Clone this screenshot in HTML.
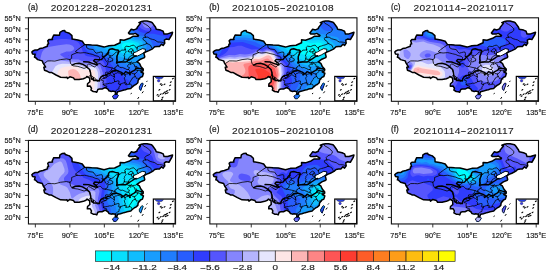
<!DOCTYPE html><html><head><meta charset="utf-8"><title>fig</title><style>html,body{margin:0;padding:0;background:#fff}svg{display:block}text{font-family:"Liberation Sans",Arial,Helvetica,sans-serif;fill:#222}text{stroke:#222;stroke-width:.18px}.t{font-size:9.5px;letter-spacing:.3px;stroke-width:.12px}.l{font-size:8.3px;stroke-width:.22px}.a{font-size:6.7px}.c{font-size:8.1px}</style></head><body>
<svg width="550" height="275" viewBox="0 0 550 275">
<rect width="550" height="275" fill="#fff"/>
<defs>
<clipPath id="cn"><path clip-rule="evenodd" d="M3.4,34.3 L4.4,33.2 L6.7,32.1 L9.2,32.1 L11.3,30.8 L14.5,30.1 L18.9,28.4 L19.1,26.4 L20.2,26.0 L19.3,22.9 L20.5,21.8 L24.1,21.6 L23.7,20.7 L25.3,17.2 L31.0,17.4 L31.5,14.5 L34.0,13.0 L36.3,12.8 L36.8,14.1 L40.9,15.4 L43.5,17.8 L43.7,21.3 L49.4,22.2 L53.8,23.5 L56.1,26.8 L63.2,27.3 L68.5,27.5 L75.6,29.3 L80.5,27.9 L86.2,27.5 L91.7,24.9 L91.7,22.0 L95.6,22.4 L101.2,20.5 L104.4,18.5 L109.7,18.5 L110.1,17.6 L106.9,15.6 L105.3,16.1 L100.9,16.1 L100.0,15.2 L102.8,11.4 L105.5,12.1 L108.5,10.8 L108.7,9.7 L110.6,7.3 L112.0,5.5 L110.4,4.8 L113.1,3.7 L115.6,3.3 L118.6,3.3 L123.2,4.4 L124.1,5.3 L127.1,9.5 L127.8,11.4 L132.2,12.3 L134.7,13.4 L135.6,16.1 L139.1,16.1 L144.1,14.5 L143.5,16.7 L140.5,21.8 L137.7,21.3 L135.9,22.4 L136.3,25.3 L134.7,27.7 L133.1,26.4 L131.0,28.6 L128.7,28.6 L126.2,29.0 L124.1,31.0 L120.5,32.8 L117.7,33.9 L115.4,35.4 L115.9,37.4 L116.3,38.9 L115.9,39.8 L112.0,41.4 L108.5,44.0 L111.0,45.5 L112.4,48.6 L114.7,51.3 L114.7,53.0 L112.4,54.1 L114.0,55.0 L115.0,55.4 L114.0,58.7 L112.0,59.6 L109.7,62.5 L109.4,64.9 L107.4,66.7 L106.0,67.3 L103.5,69.3 L102.3,70.6 L98.6,71.3 L97.0,71.9 L95.4,72.2 L92.0,73.3 L89.2,73.9 L88.3,76.3 L86.9,76.1 L87.1,73.9 L84.1,73.3 L82.8,73.7 L80.5,73.0 L79.5,71.3 L76.8,69.7 L73.6,71.3 L71.0,71.3 L69.4,71.7 L68.3,74.4 L67.1,73.9 L64.8,73.7 L62.5,72.4 L63.0,70.4 L61.6,68.2 L58.9,68.4 L59.1,66.0 L61.4,64.0 L61.2,60.3 L58.4,58.7 L57.5,59.8 L54.9,60.9 L50.6,61.8 L46.2,61.8 L45.1,60.1 L41.4,59.0 L39.1,60.7 L38.6,59.4 L37.0,59.6 L32.2,59.4 L27.6,57.2 L23.0,54.6 L20.9,54.6 L18.9,53.5 L16.1,52.4 L15.4,49.5 L17.2,49.3 L14.7,45.3 L13.8,43.1 L9.2,41.8 L6.9,39.6 L6.0,39.4 L6.7,36.5 L4.1,36.1ZM105.3,37.7 L108.1,38.6 L111.5,37.1 L114.5,35.4 L116.8,33.9 L117.0,31.4 L113.8,30.9 L110.5,32.5 L107.9,34.0 L105.4,35.0ZM84.1,78.8 L85.3,81.0 L87.4,81.0 L88.7,79.9 L89.9,77.7 L89.0,76.6 L86.4,76.8ZM113.8,65.3 L114.8,66.0 L114.0,68.2 L112.3,72.7 L111.0,71.1 L110.8,69.1 L112.7,66.0Z"/></clipPath>
<clipPath id="fr"><rect x="0" y="0" width="147.1" height="83.5"/></clipPath>
<g id="lines" fill="none" stroke="#000" stroke-linejoin="round" stroke-linecap="round">
<path stroke-width="0.8" d="M15.9,45.5 L19.3,43.1 L23.0,43.1 L26.4,43.3 L32.2,41.8 L37.9,41.1 L41.4,41.8M41.4,41.8 L43.2,40.5 L43.2,37.0 L48.7,34.8M48.7,34.8 L46.9,33.7 L49.2,31.9 L52.4,29.5 L56.1,27.1M41.4,41.8 L42.1,45.8 L44.8,48.0 L49.4,48.6 L52.4,49.5 L55.6,50.6 L58.4,49.5M58.4,49.5 L61.2,51.7 L62.1,55.0 L62.1,56.8M62.1,56.8 L61.4,58.1 L60.2,59.0 L58.6,58.7M48.7,34.8 L51.7,35.2 L56.3,34.8 L58.2,35.2 L60.9,35.9 L64.4,36.7 L66.7,37.8 L69.7,38.5 L71.3,39.8 L71.0,41.1 L70.8,42.5 L69.4,44.0 L66.7,44.7 L66.2,45.8 L68.5,47.1M58.4,49.5 L58.9,47.3 L60.2,46.0 L62.1,46.9 L64.4,48.4 L66.2,49.3 L67.1,48.0 L68.5,47.1M68.5,47.1 L70.1,45.8 L71.7,45.8 L73.1,46.9 L74.5,48.4 L77.0,48.7M57.9,27.1 L58.2,29.9 L60.5,31.2 L64.8,31.7 L66.4,34.1 L67.8,35.4 L70.1,34.8 L72.0,34.3 L73.6,34.3 L74.0,35.4 L74.0,37.4 L73.3,38.3 L74.3,38.7M74.3,38.7 L75.9,39.8 L76.6,41.4 L77.0,42.5 L78.4,43.8 L79.3,43.1 L80.2,42.0 L79.5,41.1 L80.7,39.8 L81.2,39.4 L82.0,38.0 L80.5,37.2 L79.3,36.7 L80.4,35.4 L80.4,34.5 L80.0,34.3 L78.9,34.7 L77.8,35.9 L77.7,37.8 L75.9,38.3 L74.3,38.7M82.0,38.0 L82.8,38.1 L84.6,37.4 L86.2,35.6 L87.8,34.3 L90.1,34.1M90.1,34.1 L91.7,33.9 L92.9,32.3 L95.4,32.3 L96.8,31.5M96.8,31.5 L96.3,29.7 L97.7,28.4 L100.9,28.8 L103.2,27.7 L105.3,27.3 L106.4,28.6 L107.8,29.9 L108.7,30.1M108.7,30.1 L109.2,28.8 L111.5,28.2 L113.8,27.5 L116.1,26.8 L118.4,25.7M118.4,25.7 L117.2,23.5 L115.0,22.2 L114.5,20.7 L115.0,19.8 L117.0,19.4M117.0,19.4 L116.3,17.2 L117.9,15.4 L120.7,14.3 L122.3,12.8 L122.5,11.0 L119.5,8.1 L117.2,6.6 L115.0,5.5 L113.8,3.7M117.0,19.4 L119.3,19.4 L121.6,20.9 L124.1,21.6 L126.4,22.2 L127.6,23.1 L129.4,24.2 L131.0,24.2 L133.3,24.4 L136.3,25.3M118.4,25.7 L120.5,26.6 L122.3,27.7 L122.8,29.3 L123.9,30.9M108.7,30.1 L108.5,31.5 L109.9,33.0M99.8,33.4 L100.2,34.1 L101.8,34.1 L103.2,33.7 L104.4,32.6 L104.4,31.6 L102.5,30.7 L101.2,31.7 L100.0,32.8 L99.8,33.4M103.2,33.7 L102.8,35.6 L103.9,36.1 L104.8,36.1 L105.5,34.8 L105.3,33.9 L104.8,32.6 L104.4,32.6M96.8,31.5 L96.8,33.0 L97.7,33.9 L97.0,35.0 L96.1,35.9 L96.1,37.0 L95.4,38.1 L96.3,38.9 L95.9,40.3 L95.9,41.0M90.1,34.1 L89.4,36.3 L88.5,38.5 L88.4,40.7 L88.7,42.7 L88.1,44.9M88.1,44.9 L89.7,44.4 L92.0,43.9 L93.6,43.6 L95.4,42.7 L95.6,41.8 L95.9,41.0M95.9,41.0 L97.0,41.4 L98.6,41.6 L99.8,41.6M99.8,41.6 L100.5,40.0 L101.2,38.9 L102.1,38.4 L103.5,37.6 L105.3,36.9M99.8,41.6 L101.2,41.9 L99.8,42.9 L98.6,44.0 L99.3,44.8 L101.6,45.0M101.6,45.0 L102.1,44.9 L103.0,44.1 L104.1,45.1 L105.8,44.9 L106.9,44.8 L108.1,44.0 L108.7,43.8M102.1,44.9 L103.3,45.3 L104.8,46.2 L106.0,46.9 L106.2,48.2 L106.4,49.0 L107.4,48.5 L108.5,48.8 L107.8,49.5 L107.1,49.9 L107.1,50.9 L107.4,51.5 L107.8,52.4 L109.4,52.5M101.6,45.0 L102.7,46.0 L102.5,46.8 L101.2,46.2 L100.4,46.4 L99.3,47.7 L99.0,48.6 L100.0,49.4 L101.0,49.7 L100.5,50.9 L100.0,51.7M100.0,51.7 L98.4,51.8 L97.0,50.9 L95.4,50.3 L94.3,49.7 L92.6,49.9 L91.0,49.3 L90.2,48.5 L89.5,47.9M88.1,44.9 L88.3,45.8 L89.0,46.2 L89.7,46.9 L89.8,47.5 L89.5,47.9M89.5,47.9 L88.5,48.0 L87.8,48.5 L87.7,49.3 L86.2,49.8 L86.4,51.3M86.4,51.3 L85.8,51.2 L83.9,50.2 L81.6,49.7 L79.3,49.2 L77.9,48.8 L77.0,48.7M77.0,48.7 L77.9,47.7 L79.2,46.9 L79.2,46.2 L79.5,45.1 L79.3,44.4 L79.8,43.9 L80.9,44.0 L81.8,44.2 L82.2,43.3 L84.1,43.2 L84.4,41.1 L83.7,40.7 L82.5,40.0 L81.2,39.4M62.1,56.8 L62.4,58.5 L63.2,58.1 L64.6,59.0 L64.6,59.8 L66.2,60.1 L66.9,60.7 L67.7,62.2 L67.7,62.8 L68.5,63.6 L69.9,63.3 L71.3,62.9 L71.0,61.6 L71.5,60.7 L72.8,58.9 L74.5,58.0 L74.8,59.4 L76.6,60.1M76.6,60.1 L76.1,60.7 L74.5,60.7 L72.9,61.5 L73.0,62.5 L74.6,62.5 L75.1,63.1 L74.5,64.5 L74.9,65.8 L74.9,66.8M74.9,66.8 L75.3,67.5 L76.6,67.8 L77.5,68.1 L78.5,68.6 L78.2,69.3 L77.2,70.1M83.9,50.2 L83.2,51.3 L82.8,52.4 L81.6,53.4 L80.8,54.1 L79.8,54.6 L78.4,54.3 L77.2,54.5 L77.0,55.7 L76.8,56.3 L77.6,57.3 L78.9,58.2M78.9,58.2 L77.2,57.9 L77.2,58.6 L78.4,59.2 L77.9,60.0 L76.6,60.1M78.9,58.2 L80.2,58.3 L80.9,57.5 L81.6,57.0 L82.6,57.2 L83.5,57.8 L84.1,58.1 L84.9,58.9 L85.8,58.7M85.8,58.7 L85.8,57.8 L85.6,57.0M85.6,57.0 L85.3,56.3 L84.1,55.3 L83.7,54.1 L83.9,53.9 L85.3,53.6 L86.4,53.6 L87.7,53.0 L87.7,51.8 L86.4,51.3M85.6,57.0 L86.1,56.1 L86.9,55.6 L88.1,55.4 L88.9,54.9 L89.7,55.0 L91.0,55.2 L92.4,55.9 L94.0,55.9 L94.7,56.1 L95.8,55.3 L95.9,56.0 L95.8,57.0 L96.6,57.2M96.6,57.2 L97.9,56.3 L99.8,55.9 L100.9,55.4 L101.4,55.3M101.4,55.3 L101.2,54.3 L101.3,53.0 L100.6,52.4 L100.0,51.7M101.4,55.3 L102.8,55.0 L103.2,55.2 L103.7,55.7 L104.6,55.9 L105.8,56.1 L106.2,56.3M106.2,56.3 L107.5,55.3 L108.5,54.3 L109.0,53.6 L109.4,52.5M109.4,52.5 L110.1,52.5 L111.3,52.9 L112.4,52.8 L112.9,52.1 L113.5,51.7M112.4,52.8 L112.7,53.1 L113.3,53.5M106.2,56.3 L105.9,57.2 L106.7,58.1 L106.8,58.7M106.8,58.7 L107.5,59.4 L107.9,60.6 L108.7,60.8 L109.2,60.3 L109.9,60.8 L110.8,60.6 L111.4,61.2M106.8,58.7 L105.3,59.4 L104.6,59.6 L103.9,60.2 L103.6,61.4 L102.4,62.5 L102.3,63.1 L101.6,64.1 L101.0,65.1 L100.8,66.2M100.8,66.2 L102.1,66.4 L102.9,66.9 L103.2,67.5 L103.5,68.4 L103.9,69.1M100.8,66.2 L100.0,66.7 L98.9,66.8 L97.5,67.0 L97.0,66.7 L98.3,65.6 L97.2,65.3 L96.4,65.1M96.4,65.1 L96.7,64.0 L96.8,63.1 L96.3,62.3 L96.2,61.6 L95.8,60.3 L96.2,59.6 L97.0,58.7 L96.6,58.1 L96.6,57.2M96.4,65.1 L95.2,65.1 L94.0,65.5 L93.3,65.9 L92.4,65.7 L92.0,66.6M92.0,66.6 L90.8,66.8 L90.7,65.9 L89.9,65.8 L90.4,65.1 L90.6,64.0 L90.7,63.3 L89.5,63.1 L89.1,63.1 L87.6,63.7 L86.2,63.8M85.8,58.7 L86.1,59.8 L85.2,60.9 L86.1,62.0 L86.0,63.1 L86.2,63.8M86.2,63.8 L85.1,64.9 L83.7,65.0 L82.8,65.6 L81.4,65.3 L80.5,65.6 L79.3,65.9 L78.6,66.1 L77.0,66.2 L75.9,66.4 L74.9,66.8M92.0,66.6 L91.7,67.8 L91.0,68.6 L90.5,69.4 L90.6,70.4 L90.5,71.0 L89.0,71.6 L88.2,72.3 L87.4,72.8 L86.8,73.7"/>
<path stroke-width="1.45" d="M55.2,44.0 L60.2,44.2 L63.2,45.3 L66.7,46.6 L69.2,46.9 L67.8,44.9 L65.1,43.1 L66.4,41.6 L70.1,42.0 L73.1,41.7 L74.9,39.6 L76.3,38.5 L78.9,36.3 L80.0,34.5 L80.0,33.4 L80.5,32.3 L81.4,31.4 L83.9,31.0 L86.9,31.9 L89.9,32.5 L90.4,33.4 L90.1,34.3 L89.4,36.3 L88.5,38.5 L88.4,41.6 L88.7,42.7 L88.1,44.9 L90.1,44.4 L92.9,44.2 L95.9,44.2 L97.5,44.2 L99.3,42.9 L101.2,41.8 L103.5,40.3 L105.8,38.7 L107.8,38.0M43.7,47.3 L46.9,45.8 L50.6,45.5 L54.0,46.4 L57.5,48.4 L61.2,51.7 L62.1,55.0 L62.5,58.3 L63.1,61.2 L64.3,61.8 L64.8,60.1 L65.3,62.7 L68.3,62.5 L71.0,63.1 L71.3,61.2 L72.6,59.0 L74.9,57.6 L76.9,57.4 L79.4,56.0 L81.4,55.7 L83.7,53.2 L86.2,52.8 L88.1,52.7 L90.4,53.5 L92.4,54.3 L94.0,55.4 L94.5,56.2 L96.3,55.0 L97.2,53.8 L98.9,54.6 L101.2,55.6 L103.5,53.9 L105.3,52.9 L106.7,52.0 L107.5,50.5 L109.1,50.2 L111.0,50.7 L112.9,51.0 L114.7,51.7"/>
<path stroke-width="1.5" d="M3.4,34.3 L4.4,33.2 L6.7,32.1 L9.2,32.1 L11.3,30.8 L14.5,30.1 L18.9,28.4 L19.1,26.4 L20.2,26.0 L19.3,22.9 L20.5,21.8 L24.1,21.6 L23.7,20.7 L25.3,17.2 L31.0,17.4 L31.5,14.5 L34.0,13.0 L36.3,12.8 L36.8,14.1 L40.9,15.4 L43.5,17.8 L43.7,21.3 L49.4,22.2 L53.8,23.5 L56.1,26.8 L63.2,27.3 L68.5,27.5 L75.6,29.3 L80.5,27.9 L86.2,27.5 L91.7,24.9 L91.7,22.0 L95.6,22.4 L101.2,20.5 L104.4,18.5 L109.7,18.5 L110.1,17.6 L106.9,15.6 L105.3,16.1 L100.9,16.1 L100.0,15.2 L102.8,11.4 L105.5,12.1 L108.5,10.8 L108.7,9.7 L110.6,7.3 L112.0,5.5 L110.4,4.8 L113.1,3.7 L115.6,3.3 L118.6,3.3 L123.2,4.4 L124.1,5.3 L127.1,9.5 L127.8,11.4 L132.2,12.3 L134.7,13.4 L135.6,16.1 L139.1,16.1 L144.1,14.5 L143.5,16.7 L140.5,21.8 L137.7,21.3 L135.9,22.4 L136.3,25.3 L134.7,27.7 L133.1,26.4 L131.0,28.6 L128.7,28.6 L126.2,29.0 L124.1,31.0 L120.5,32.8 L117.7,33.9 L115.4,35.4 L115.9,37.4 L116.3,38.9 L115.9,39.8 L112.0,41.4 L108.5,44.0 L111.0,45.5 L112.4,48.6 L114.7,51.3 L114.7,53.0 L112.4,54.1 L114.0,55.0 L115.0,55.4 L114.0,58.7 L112.0,59.6 L109.7,62.5 L109.4,64.9 L107.4,66.7 L106.0,67.3 L103.5,69.3 L102.3,70.6 L98.6,71.3 L97.0,71.9 L95.4,72.2 L92.0,73.3 L89.2,73.9 L88.3,76.3 L86.9,76.1 L87.1,73.9 L84.1,73.3 L82.8,73.7 L80.5,73.0 L79.5,71.3 L76.8,69.7 L73.6,71.3 L71.0,71.3 L69.4,71.7 L68.3,74.4 L67.1,73.9 L64.8,73.7 L62.5,72.4 L63.0,70.4 L61.6,68.2 L58.9,68.4 L59.1,66.0 L61.4,64.0 L61.2,60.3 L58.4,58.7 L57.5,59.8 L54.9,60.9 L50.6,61.8 L46.2,61.8 L45.1,60.1 L41.4,59.0 L39.1,60.7 L38.6,59.4 L37.0,59.6 L32.2,59.4 L27.6,57.2 L23.0,54.6 L20.9,54.6 L18.9,53.5 L16.1,52.4 L15.4,49.5 L17.2,49.3 L14.7,45.3 L13.8,43.1 L9.2,41.8 L6.9,39.6 L6.0,39.4 L6.7,36.5 L4.1,36.1Z"/><path stroke-width="0.9" d="M105.3,37.7 L108.1,38.6 L111.5,37.1 L114.5,35.4 L116.8,33.9 L117.0,31.4 L113.8,30.9 L110.5,32.5 L107.9,34.0 L105.4,35.0Z"/>
<path stroke-width="0.8" d="M84.1,78.8 L85.3,81.0 L87.4,81.0 L88.7,79.9 L89.9,77.7 L89.0,76.6 L86.4,76.8ZM113.8,65.3 L114.8,66.0 L114.0,68.2 L112.3,72.7 L111.0,71.1 L110.8,69.1 L112.7,66.0Z"/>
<ellipse cx="93.3" cy="56.9" rx="1.0" ry="0.9" fill="#000" stroke="none"/>
<ellipse cx="101.5" cy="56.8" rx="1.0" ry="0.9" fill="#000" stroke="none"/>
</g>
<g id="inset"><rect x="124.9" y="58.6" width="21.85" height="24.50" fill="#fff" stroke="#000" stroke-width="1.2"/>
<path d="M131.8,66.5l0.9,-0.6M133.0,67.6l0.9,-0.6M135.6,66.8l0.9,-0.6M141.9,64.6l0.9,-0.6M141.3,67.8l0.9,-0.6M130.5,72.3l0.9,-0.6M140.7,72.3l0.9,-0.6M138.1,73.5l0.9,-0.6M135.6,74.8l0.9,-0.6M136.8,76.1l0.9,-0.6M134.3,76.1l0.9,-0.6M131.8,76.7l0.9,-0.6M128.6,77.3l0.9,-0.6M129.8,78.6l0.9,-0.6M138.7,75.4l0.9,-0.6M133.0,81.8l0.9,-0.6M133.7,79.9l0.9,-0.6M144.0,61.1l0.9,-0.6M137.3,74.1l0.9,-0.6" stroke="#000" stroke-width="1.1" stroke-linecap="round" fill="none"/>
<path d="M126.4,59.2 h8.5 l-1.2,1.6 l-3,0.5 l-2.6,-0.6 z" fill="#2a45f5" stroke="#000" stroke-width="0.4"/>
<ellipse cx="130.2" cy="63.0" rx="1.3" ry="1.2" fill="#3c3cf0" stroke="#000" stroke-width="0.3"/>
</g>
<path id="dash" d="M116.3,68.8l0.9,-1.3M113.8,75.1l0.9,-1.2M109.4,80.8l0.8,-1.2M102.5,75.9l0.5,-0.3M118.3,63.8l0.4,-0.5" stroke="#000" stroke-width="1.0" stroke-linecap="round" fill="none"/>
</defs>
<g transform="translate(28.45,17.8)">
<g clip-path="url(#fr)">
<g clip-path="url(#cn)">
<rect x="-2" y="-2" width="151.1" height="87.5" fill="#00fdfd"/><path fill="#08defd" fill-rule="evenodd" d="M-4.0,-4.0L151.0,-4.0L151.0,87.0L-4.0,87.0ZM96.4,25.0L94.5,26.0L93.6,27.0L93.2,29.0L95.0,30.8L97.0,31.5L100.0,31.7L103.4,31.0L106.0,29.6L107.1,28.0L107.1,27.0L106.4,26.0L105.0,25.3L100.0,24.6Z"/><path fill="#10bdfd" fill-rule="evenodd" d="M-4.0,-4.0L151.0,-4.0L151.0,87.0L-4.0,87.0ZM87.6,21.0L85.6,22.0L83.7,24.0L83.1,26.0L83.7,29.0L85.2,31.0L86.5,32.0L94.0,35.6L99.0,36.0L102.0,35.4L105.0,34.2L107.0,33.2L109.0,31.5L111.0,28.0L110.9,26.0L110.0,25.0L99.0,21.2L93.0,20.2L90.0,20.4Z"/><path fill="#189dfd" fill-rule="evenodd" d="M-4.0,-4.0L151.0,-4.0L151.0,87.0L-4.0,87.0ZM80.3,14.0L77.0,15.4L74.1,18.0L72.5,21.0L71.9,25.0L72.5,27.0L74.0,29.0L76.5,31.0L83.0,34.9L93.0,39.4L101.0,40.2L103.0,39.7L109.0,36.6L111.0,34.8L113.0,31.7L114.2,29.0L114.6,26.0L113.7,24.0L112.3,23.0L106.0,21.9L98.0,17.2L91.0,14.5L85.0,13.5Z"/><path fill="#207dfd" fill-rule="evenodd" d="M-4.0,-4.0L151.0,-4.0L151.0,87.0L-4.0,87.0ZM74.0,4.0L71.0,5.0L68.3,7.0L66.2,10.0L65.0,13.0L63.9,19.0L63.8,25.0L64.4,28.0L66.3,31.0L68.0,32.2L73.0,33.6L82.6,38.0L86.2,40.0L91.0,43.6L99.0,46.4L102.0,46.9L106.2,47.0L110.0,46.1L112.0,44.9L114.0,42.4L115.3,40.0L116.2,37.0L116.9,33.0L118.2,29.0L118.3,26.0L117.0,23.0L115.0,21.4L113.0,20.6L108.0,20.6L106.4,20.0L97.0,12.0L92.0,8.7L87.0,6.1L80.0,4.0L77.0,3.7Z"/><path fill="#285dfd" fill-rule="evenodd" d="M-4.0,-4.0L46.1,-4.0L52.0,6.3L55.3,13.0L57.7,20.0L59.3,29.0L60.7,31.0L66.0,34.2L73.0,36.4L80.0,39.8L83.1,42.0L87.0,45.8L89.0,47.2L108.0,53.6L111.0,55.9L113.8,60.0L116.0,60.5L120.0,59.5L124.0,57.2L126.7,54.0L128.1,51.0L128.9,47.0L128.8,43.0L127.9,38.0L125.7,30.0L122.5,23.0L121.0,21.0L117.0,18.8L108.0,16.9L87.7,-4.0L151.0,-4.0L151.0,87.0L-4.0,87.0Z"/><path fill="#303cfd" fill-rule="evenodd" d="M98.3,-4.0L151.0,-4.0L151.0,34.4L144.0,27.8L137.4,23.0L137.4,20.0L137.0,18.8L125.3,16.0L119.0,15.9L116.0,15.4L111.7,14.0L109.0,12.5L105.7,9.0L102.4,4.0L98.6,-3.0ZM33.0,13.8L35.0,13.5L38.0,13.7L46.0,16.1L49.0,17.6L51.0,19.2L53.0,21.7L56.7,31.0L59.0,33.8L61.0,34.8L72.0,38.5L76.8,41.0L79.4,43.0L81.4,45.0L85.0,50.3L90.6,54.0L97.0,60.8L100.9,63.0L100.8,64.0L99.0,68.0L100.0,71.7L101.0,73.2L102.0,73.3L105.0,71.8L109.0,72.1L112.0,71.8L113.0,72.0L118.0,75.9L122.0,77.8L127.0,79.0L132.0,79.3L137.0,78.7L142.0,77.2L146.0,75.1L151.0,71.7L151.0,87.0L-4.0,87.0L-4.0,31.1L-1.0,30.4L1.0,29.3L8.5,22.0L14.0,18.5L20.0,16.3L27.0,15.8Z"/><path fill="#5555fd" fill-rule="evenodd" d="M106.2,-4.0L151.0,-4.0L151.0,3.0L141.0,5.5L127.1,11.0L120.0,12.9L117.0,12.8L113.0,11.0L110.9,9.0L109.5,7.0L107.7,3.0L106.6,-1.0ZM27.0,21.9L33.0,21.1L38.0,21.1L44.0,22.0L48.0,23.4L50.0,24.9L51.0,26.2L53.0,29.9L54.4,34.0L57.0,37.6L59.0,38.4L69.1,40.0L71.2,41.0L74.9,44.0L76.6,47.0L76.9,50.0L78.3,55.0L77.8,60.0L78.0,65.0L76.8,69.0L76.7,71.0L79.9,76.0L84.1,87.0L-4.0,87.0L-4.0,46.0L2.0,43.9L6.0,41.4L7.1,40.0L8.4,35.0L9.4,33.0L12.0,29.3L14.0,27.4L22.0,23.3ZM39.9,38.0L40.7,38.0L40.0,37.0Z"/><path fill="#8585fd" fill-rule="evenodd" d="M115.0,-4.0L129.7,-4.0L129.3,-1.0L127.8,3.0L125.2,7.0L123.0,9.1L121.0,10.1L118.0,10.2L116.0,9.4L114.7,8.0L113.9,6.0L113.5,3.0L113.8,0.0ZM30.0,27.4L38.0,26.4L41.0,26.6L44.1,28.0L45.7,30.0L45.7,31.0L45.2,32.0L43.9,33.0L42.0,33.6L38.0,33.7L32.2,36.0L31.7,37.0L35.9,40.0L40.0,41.4L50.0,41.7L54.0,43.4L56.0,43.9L59.0,43.9L63.0,43.2L66.0,43.3L69.0,44.7L71.9,48.0L74.4,55.0L74.3,64.0L73.6,71.0L76.6,87.0L-4.0,87.0L-4.0,58.5L-2.0,57.4L3.0,53.4L8.3,48.0L11.3,43.0L13.4,35.0L14.5,33.0L16.5,31.0L18.2,30.0L21.3,29.0Z"/><path fill="#b5b5fd" fill-rule="evenodd" d="M19.0,43.9L25.0,42.5L30.0,42.5L40.0,43.7L48.0,44.1L58.0,47.1L65.0,46.7L67.0,47.4L69.0,48.9L71.0,52.0L72.1,57.0L70.4,87.0L-4.0,87.0L-4.0,78.3L-3.0,77.4L15.6,52.0L16.7,50.0L17.0,46.0L17.6,45.0Z"/><path fill="#e6e6fd" fill-rule="evenodd" d="M34.0,45.9L47.0,46.1L56.0,49.2L59.0,49.5L65.0,49.3L66.6,50.0L68.0,51.2L69.3,54.0L69.8,58.0L68.8,72.0L67.2,78.0L63.7,87.0L12.2,87.0L12.8,81.0L14.4,74.0L16.8,67.0L19.7,61.0L27.0,48.4L30.0,46.7Z"/><path fill="#fde6e6" fill-rule="evenodd" d="M37.0,48.9L43.0,48.3L47.0,48.4L55.0,52.0L59.0,52.2L65.0,51.9L66.0,52.7L66.7,54.0L67.3,60.0L66.1,66.0L66.0,72.2L64.0,75.3L60.0,79.6L51.3,87.0L33.5,87.0L30.4,83.0L28.4,79.0L27.3,74.0L27.1,69.0L27.8,63.0L29.5,54.0L30.5,52.0L31.6,51.0L34.0,49.7Z"/><path fill="#fdb5b5" fill-rule="evenodd" d="M42.0,51.6L45.0,51.3L47.3,52.0L49.7,54.0L51.6,57.0L52.7,62.0L54.5,67.0L54.0,69.0L53.0,70.2L51.0,71.5L47.0,72.3L44.0,71.7L41.0,69.6L39.3,67.0L38.7,63.0L40.2,58.0L39.6,54.0L39.9,53.0Z"/>
</g>
<use href="#lines"/>
</g>
<use href="#dash"/><use href="#inset"/>
<rect x="0" y="0" width="147.1" height="83.5" fill="none" stroke="#111" stroke-width="1.1"/>
<path d="M0,77.0h-3.5M0,66.0h-3.5M0,55.0h-3.5M0,44.0h-3.5M0,33.0h-3.5M0,22.0h-3.5M0,11.0h-3.5M0,0.0h-3.5M6.9,83.5v3.5M41.4,83.5v3.5M75.9,83.5v3.5M110.4,83.5v3.5M144.8,83.5v3.5" stroke="#222" stroke-width="0.9" fill="none"/>
<text class="a" transform="translate(-7.7,79.8) scale(1.08,1)" text-anchor="end">20°N</text>
<text class="a" transform="translate(-7.7,68.8) scale(1.08,1)" text-anchor="end">25°N</text>
<text class="a" transform="translate(-7.7,57.8) scale(1.08,1)" text-anchor="end">30°N</text>
<text class="a" transform="translate(-7.7,46.8) scale(1.08,1)" text-anchor="end">35°N</text>
<text class="a" transform="translate(-7.7,35.8) scale(1.08,1)" text-anchor="end">40°N</text>
<text class="a" transform="translate(-7.7,24.8) scale(1.08,1)" text-anchor="end">45°N</text>
<text class="a" transform="translate(-7.7,13.8) scale(1.08,1)" text-anchor="end">50°N</text>
<text class="a" transform="translate(-7.7,2.8) scale(1.08,1)" text-anchor="end">55°N</text>
<text class="a" style="font-size:7.2px" transform="translate(6.9,97.1) scale(1.02,1)" text-anchor="middle">75°E</text>
<text class="a" style="font-size:7.2px" transform="translate(41.4,97.1) scale(1.02,1)" text-anchor="middle">90°E</text>
<text class="a" style="font-size:7.2px" transform="translate(75.9,97.1) scale(1.02,1)" text-anchor="middle">105°E</text>
<text class="a" style="font-size:7.2px" transform="translate(110.4,97.1) scale(1.02,1)" text-anchor="middle">120°E</text>
<text class="a" style="font-size:7.2px" transform="translate(144.8,97.1) scale(1.02,1)" text-anchor="middle">135°E</text>
<text class="l" transform="translate(-0.5,-8.2) scale(0.99,1)">(a)</text>
<text class="t" transform="translate(22.2,-6.9) scale(1.07,1)">20201228<tspan textLength="6.0" lengthAdjust="spacingAndGlyphs">-</tspan>20201231</text>
</g>
<g transform="translate(209.85,17.8)">
<g clip-path="url(#fr)">
<g clip-path="url(#cn)">
<rect x="-2" y="-2" width="151.1" height="87.5" fill="#00fdfd"/><path fill="#08defd" fill-rule="evenodd" d="M-4.0,-4.0L31.2,-4.0L34.0,-1.0L36.0,0.2L39.0,1.4L43.0,1.9L61.0,2.9L64.0,2.4L65.0,1.4L65.5,-1.0L65.4,-4.0L151.0,-4.0L151.0,87.0L-4.0,87.0ZM77.4,18.0L77.1,19.0L77.6,21.0L80.2,25.0L88.0,33.6L90.0,35.2L93.0,36.7L96.0,37.5L99.0,37.7L106.0,36.4L111.0,34.2L112.4,33.0L113.6,31.0L113.4,28.0L112.2,26.0L111.0,25.2L108.0,24.8L102.0,25.5L100.0,25.3L80.0,17.8L78.0,17.6Z"/><path fill="#10bdfd" fill-rule="evenodd" d="M-4.0,-4.0L6.6,-4.0L8.7,-2.0L21.0,5.7L28.5,11.0L32.6,13.0L35.0,13.4L44.0,12.7L48.0,12.8L52.0,13.6L56.0,15.2L62.0,19.1L72.3,29.0L75.2,31.0L81.0,34.2L87.0,39.5L94.6,43.0L98.0,43.7L108.8,42.0L115.0,39.9L117.5,38.0L119.1,36.0L120.2,33.0L120.3,30.0L119.4,28.0L117.6,26.0L113.2,23.0L109.0,22.2L102.0,22.7L100.6,22.0L98.2,20.0L93.6,15.0L89.5,9.0L86.3,2.0L84.6,-4.0L151.0,-4.0L151.0,87.0L-4.0,87.0Z"/><path fill="#189dfd" fill-rule="evenodd" d="M94.7,-4.0L151.0,-4.0L151.0,87.0L-4.0,87.0L-4.0,6.9L3.0,9.1L18.0,12.3L29.0,17.2L46.0,17.6L52.0,19.2L60.0,23.2L71.0,32.2L75.0,34.8L80.0,37.2L86.0,42.9L90.0,45.1L95.0,47.2L99.0,47.9L106.0,48.1L112.0,48.8L116.0,48.5L118.0,47.8L122.1,45.0L124.0,42.6L125.3,40.0L126.2,37.0L126.5,34.0L126.2,31.0L125.4,28.0L123.0,24.8L118.8,22.0L113.0,20.0L105.0,18.9L103.2,18.0L102.1,17.0L99.5,13.0L96.8,7.0L95.1,0.0Z"/><path fill="#207dfd" fill-rule="evenodd" d="M103.3,-4.0L151.0,-4.0L151.0,87.0L-4.0,87.0L-4.0,19.8L2.0,20.2L12.0,17.8L18.0,17.5L28.0,19.9L35.0,19.8L46.0,21.1L60.0,26.5L66.0,30.4L73.0,36.2L79.0,39.4L84.0,44.8L88.0,47.9L97.0,52.4L106.0,54.8L107.0,55.6L107.3,57.0L106.8,58.0L103.5,61.0L92.2,74.0L92.0,75.0L92.5,76.0L95.0,77.3L99.0,77.5L102.0,76.2L103.8,74.0L104.6,70.0L105.2,69.0L109.0,65.4L111.0,64.2L116.0,63.0L118.5,62.0L125.6,57.0L129.0,53.7L131.6,50.0L133.3,46.0L134.1,42.0L134.2,38.0L133.5,34.0L129.4,22.0L128.2,20.0L127.0,19.2L110.6,16.0L109.0,15.4L107.2,14.0L105.0,10.7L103.5,6.0L103.1,-1.0Z"/><path fill="#285dfd" fill-rule="evenodd" d="M110.6,2.0L113.1,-4.0L151.0,-4.0L151.0,87.0L-4.0,87.0L-4.0,30.2L3.0,33.2L5.0,33.6L6.1,33.0L8.1,28.0L10.5,25.0L13.2,23.0L17.0,21.7L20.0,21.4L27.0,22.1L34.0,21.9L45.0,24.0L49.0,26.3L51.0,27.1L58.0,27.8L66.0,32.0L72.0,37.9L78.0,41.8L84.0,49.4L89.0,53.4L90.2,55.0L90.5,58.0L89.5,64.0L88.3,68.0L85.5,73.0L85.0,75.0L85.1,77.0L86.0,79.6L88.0,82.0L91.0,84.1L94.0,85.4L97.0,86.2L100.0,86.2L103.0,85.2L106.0,83.3L107.7,81.0L108.6,79.0L109.4,72.0L110.0,70.0L112.0,67.7L114.0,67.1L123.0,68.0L128.0,67.7L133.7,66.0L138.8,63.0L142.8,59.0L145.3,55.0L147.1,50.0L147.6,45.0L147.1,41.0L145.6,36.0L139.2,24.0L138.7,21.0L139.0,15.0L138.6,13.0L137.4,11.0L136.0,9.6L134.0,8.5L132.0,8.1L130.0,8.2L127.0,9.3L121.0,13.3L117.0,13.3L113.6,12.0L111.5,10.0L110.6,8.0L110.2,6.0Z"/><path fill="#303cfd" fill-rule="evenodd" d="M19.0,24.9L33.0,24.1L43.0,27.4L49.0,30.0L52.0,30.1L56.0,29.3L59.0,29.7L64.0,32.0L66.0,33.4L71.0,39.5L77.0,44.4L78.9,47.0L79.9,49.0L80.6,52.0L80.6,58.0L81.9,61.0L82.2,63.0L81.9,65.0L80.2,70.0L80.3,74.0L82.5,81.0L86.0,87.0L-4.0,87.0L-4.0,36.0L5.0,37.5L7.0,37.6L9.0,37.1L11.0,35.0L13.7,29.0L15.0,27.1L17.0,25.6ZM140.1,87.0L151.0,83.4L151.0,87.0Z"/><path fill="#5555fd" fill-rule="evenodd" d="M28.0,27.9L31.8,28.0L36.0,29.8L42.0,31.6L47.0,31.5L52.0,32.1L56.0,30.8L58.0,30.7L63.0,32.4L66.0,34.8L69.2,40.0L74.4,45.0L76.0,47.0L76.9,49.0L77.0,53.0L74.8,61.0L75.3,65.0L75.0,70.0L81.2,87.0L-4.0,87.0L-4.0,40.0L5.0,39.6L9.1,39.0L13.3,37.0L16.1,35.0L17.9,33.0L19.2,30.0L20.0,29.5L24.0,29.3Z"/><path fill="#8585fd" fill-rule="evenodd" d="M57.0,31.8L60.0,32.2L64.0,34.0L65.7,36.0L68.4,41.0L72.8,46.0L74.4,49.0L74.7,54.0L74.1,57.0L72.7,61.0L72.9,66.0L72.5,70.0L75.1,78.0L77.3,87.0L-4.0,87.0L-4.0,43.6L7.0,40.9L19.0,37.3L25.0,37.4L30.0,36.1L35.0,36.6L38.0,36.4L43.0,35.5L47.0,32.9L49.0,32.8L53.0,33.8Z"/><path fill="#b5b5fd" fill-rule="evenodd" d="M57.0,32.9L61.0,33.5L63.7,35.0L65.1,37.0L67.0,41.0L70.9,46.0L72.5,49.0L73.0,55.0L71.3,62.0L71.0,70.0L72.7,78.0L73.8,87.0L-4.0,87.0L-4.0,47.4L11.0,40.8L20.0,39.3L25.0,39.7L30.0,38.8L35.0,39.2L36.9,39.0L44.8,37.0L47.0,34.3L48.0,33.8L49.0,33.8L52.0,35.1L53.0,35.2Z"/><path fill="#e6e6fd" fill-rule="evenodd" d="M58.0,34.0L61.0,34.6L63.2,36.0L66.3,42.0L70.0,47.0L71.2,50.0L71.8,56.0L70.2,62.0L69.7,69.0L70.6,78.0L70.5,87.0L-4.0,87.0L-4.0,52.3L-2.0,51.2L7.1,44.0L11.0,42.0L19.0,41.0L25.0,41.2L39.0,40.3L46.0,37.9L48.0,35.4L49.0,35.1L51.0,36.2L53.0,36.4L57.0,34.1Z"/><path fill="#fde6e6" fill-rule="evenodd" d="M57.0,35.7L60.0,35.7L62.3,37.0L64.8,42.0L69.0,47.8L69.8,50.0L70.7,57.0L69.0,63.0L68.4,69.0L68.7,77.0L67.0,87.0L-4.0,87.0L-4.0,60.0L-2.0,58.2L9.0,44.6L11.0,43.4L19.0,42.6L24.0,42.7L39.0,41.9L41.0,41.3L44.0,39.7L49.0,39.2L53.0,37.9Z"/><path fill="#fdb5b5" fill-rule="evenodd" d="M57.0,37.7L59.0,37.5L61.0,38.6L63.6,43.0L67.6,48.0L68.6,50.0L69.7,56.0L69.7,58.0L68.1,62.0L67.2,67.0L67.0,76.0L66.0,79.3L62.9,87.0L-4.0,87.0L-4.0,77.1L-2.0,73.9L3.0,63.5L9.5,48.0L11.0,45.8L19.0,44.3L23.0,44.6L27.0,44.1L31.0,44.3L39.0,43.4L42.0,42.5L45.0,40.9L49.0,41.1L51.0,40.7Z"/><path fill="#fd8585" fill-rule="evenodd" d="M56.0,40.9L58.0,40.8L59.0,41.2L66.6,49.0L67.5,51.0L68.6,57.0L65.6,67.0L65.0,75.5L63.0,79.0L57.1,87.0L10.7,87.0L10.9,80.0L12.2,73.0L14.5,66.0L17.0,61.9L18.1,61.0L20.0,60.3L30.0,58.8L32.0,58.0L34.0,56.6L35.2,55.0L35.6,53.0L35.1,51.0L33.7,48.0L33.6,47.0L34.4,46.0L41.0,44.7L46.0,43.0L51.0,42.9Z"/><path fill="#fd5555" fill-rule="evenodd" d="M46.0,45.9L56.0,45.5L59.0,46.5L65.0,50.5L66.9,58.0L63.6,67.0L62.0,74.0L60.4,76.0L56.0,79.4L51.0,82.0L46.0,83.4L41.0,83.6L38.0,82.7L35.0,80.4L33.4,77.0L33.2,74.0L34.3,70.0L38.5,62.0L39.1,60.0L38.4,51.0L38.6,49.0L39.5,48.0L41.0,47.2Z"/><path fill="#fd3c30" fill-rule="evenodd" d="M46.0,51.1L51.0,50.4L54.0,51.3L59.6,55.0L62.6,59.0L63.0,61.0L62.2,63.0L59.0,67.4L56.0,69.9L54.0,70.4L52.0,70.1L50.3,69.0L49.6,68.0L48.7,65.0L48.0,58.0L45.6,53.0L45.5,52.0Z"/>
</g>
<use href="#lines"/>
</g>
<use href="#dash"/><use href="#inset"/>
<rect x="0" y="0" width="147.1" height="83.5" fill="none" stroke="#111" stroke-width="1.1"/>
<path d="M0,77.0h-3.5M0,66.0h-3.5M0,55.0h-3.5M0,44.0h-3.5M0,33.0h-3.5M0,22.0h-3.5M0,11.0h-3.5M0,0.0h-3.5M6.9,83.5v3.5M41.4,83.5v3.5M75.9,83.5v3.5M110.4,83.5v3.5M144.8,83.5v3.5" stroke="#222" stroke-width="0.9" fill="none"/>
<text class="a" transform="translate(-7.7,79.8) scale(1.08,1)" text-anchor="end">20°N</text>
<text class="a" transform="translate(-7.7,68.8) scale(1.08,1)" text-anchor="end">25°N</text>
<text class="a" transform="translate(-7.7,57.8) scale(1.08,1)" text-anchor="end">30°N</text>
<text class="a" transform="translate(-7.7,46.8) scale(1.08,1)" text-anchor="end">35°N</text>
<text class="a" transform="translate(-7.7,35.8) scale(1.08,1)" text-anchor="end">40°N</text>
<text class="a" transform="translate(-7.7,24.8) scale(1.08,1)" text-anchor="end">45°N</text>
<text class="a" transform="translate(-7.7,13.8) scale(1.08,1)" text-anchor="end">50°N</text>
<text class="a" transform="translate(-7.7,2.8) scale(1.08,1)" text-anchor="end">55°N</text>
<text class="a" style="font-size:7.2px" transform="translate(6.9,97.1) scale(1.02,1)" text-anchor="middle">75°E</text>
<text class="a" style="font-size:7.2px" transform="translate(41.4,97.1) scale(1.02,1)" text-anchor="middle">90°E</text>
<text class="a" style="font-size:7.2px" transform="translate(75.9,97.1) scale(1.02,1)" text-anchor="middle">105°E</text>
<text class="a" style="font-size:7.2px" transform="translate(110.4,97.1) scale(1.02,1)" text-anchor="middle">120°E</text>
<text class="a" style="font-size:7.2px" transform="translate(144.8,97.1) scale(1.02,1)" text-anchor="middle">135°E</text>
<text class="l" transform="translate(-0.5,-8.2) scale(0.99,1)">(b)</text>
<text class="t" transform="translate(22.2,-6.9) scale(1.07,1)">20210105<tspan textLength="6.0" lengthAdjust="spacingAndGlyphs">-</tspan>20210108</text>
</g>
<g transform="translate(391.4,17.8)">
<g clip-path="url(#fr)">
<g clip-path="url(#cn)">
<rect x="-2" y="-2" width="151.1" height="87.5" fill="#189dfd"/><path fill="#207dfd" fill-rule="evenodd" d="M-4.0,-4.0L151.0,-4.0L151.0,87.0L-4.0,87.0ZM42.1,7.0L41.0,7.4L39.0,9.0L37.0,12.2L36.1,15.0L36.2,16.0L37.1,17.0L39.0,17.5L41.8,17.0L43.1,16.0L44.6,14.0L45.5,11.0L45.4,9.0L44.0,7.2Z"/><path fill="#285dfd" fill-rule="evenodd" d="M-4.0,-4.0L34.9,-4.0L33.5,4.0L34.2,12.0L33.8,16.0L34.2,17.0L36.0,18.4L38.0,19.2L40.0,19.4L43.0,18.9L47.2,17.0L54.8,12.0L59.7,8.0L62.4,5.0L64.2,2.0L65.2,-1.0L65.5,-4.0L151.0,-4.0L151.0,87.0L-4.0,87.0Z"/><path fill="#303cfd" fill-rule="evenodd" d="M-4.0,-4.0L24.5,-4.0L26.3,5.0L30.3,16.0L31.7,18.0L37.0,20.4L39.0,20.9L42.0,21.0L52.0,19.2L58.0,18.7L65.0,18.7L71.0,19.3L75.0,20.2L78.0,21.4L87.9,27.0L97.0,29.6L105.0,29.1L111.0,27.9L114.0,26.0L114.6,25.0L114.7,23.0L114.0,22.0L112.7,21.0L107.0,19.5L104.2,18.0L98.8,14.0L95.8,11.0L93.6,8.0L92.1,5.0L91.0,1.0L90.3,-4.0L151.0,-4.0L151.0,87.0L-4.0,87.0ZM70.5,61.0L69.3,63.0L69.2,66.0L70.0,67.3L71.0,67.8L73.0,67.8L75.2,66.0L76.0,64.0L75.9,63.0L75.5,62.0L74.0,60.8L72.0,60.4Z"/><path fill="#5555fd" fill-rule="evenodd" d="M-4.0,-4.0L14.5,-4.0L16.5,1.0L20.7,9.0L24.4,15.0L27.1,18.0L28.9,19.0L38.0,22.2L50.0,22.9L55.0,24.0L58.9,26.0L65.0,30.5L68.0,31.7L74.0,31.2L82.0,33.2L91.0,32.9L98.0,33.5L107.0,32.4L118.0,32.2L120.0,32.6L122.9,34.0L125.9,36.0L134.0,43.3L139.0,47.3L146.0,51.7L151.0,54.1L151.0,87.0L-4.0,87.0ZM69.0,41.6L68.0,42.6L67.6,44.0L68.2,47.0L70.0,49.4L71.0,49.8L72.0,49.6L73.3,48.0L73.6,46.0L73.3,45.0L71.0,42.7ZM18.5,49.0L19.0,49.2L19.1,49.0L19.0,48.8ZM71.0,57.6L68.0,60.2L66.0,65.1L63.4,70.0L63.5,73.0L65.0,75.4L67.0,76.7L70.0,77.0L73.0,76.1L78.0,72.9L83.0,73.5L84.7,73.0L86.3,72.0L86.5,71.0L86.1,70.0L82.2,66.0L80.6,62.0L79.2,60.0L77.0,58.8L73.0,57.5ZM106.6,-4.0L134.7,-4.0L134.8,6.0L136.7,15.0L136.5,17.0L136.0,18.2L135.0,19.3L133.0,20.0L132.0,20.0L130.3,19.0L129.3,17.0L129.5,11.0L129.0,9.9L127.0,8.9L125.0,9.1L123.0,9.8L116.0,13.6L113.0,13.7L110.0,12.4L107.2,9.0L105.8,5.0L105.7,0.0Z"/><path fill="#8585fd" fill-rule="evenodd" d="M-4.0,-4.0L2.2,-4.0L4.2,-1.0L14.9,12.0L19.6,17.0L24.0,20.6L26.0,21.5L32.0,21.6L38.0,23.9L49.0,25.8L51.6,27.0L53.7,29.0L54.9,32.0L55.0,34.0L54.2,38.0L54.6,40.0L58.0,42.9L63.0,45.1L65.0,46.5L66.9,49.0L67.7,52.0L67.5,55.0L65.0,61.2L63.4,64.0L58.7,69.0L56.5,74.0L56.1,77.0L56.1,80.0L56.8,83.0L58.5,87.0L-4.0,87.0ZM34.8,36.0L33.5,37.0L33.3,38.0L33.9,39.0L35.0,39.6L38.0,39.3L39.4,38.0L39.4,37.0L38.0,35.8L36.0,35.7ZM17.8,47.0L16.8,48.0L15.9,50.0L16.3,51.0L17.0,51.5L19.0,51.1L20.4,49.0L20.0,47.1L19.0,46.6ZM84.0,36.9L97.0,37.5L107.0,36.4L110.0,37.0L112.0,38.4L113.5,41.0L113.9,50.0L112.8,53.0L109.2,59.0L107.6,61.0L106.0,62.2L104.0,63.1L97.0,64.5L92.0,63.8L88.0,62.8L87.0,62.2L85.4,58.0L82.0,54.8L78.0,52.6L77.0,51.2L76.7,50.0L77.0,47.4L79.6,40.0L81.6,38.0ZM114.0,67.0L117.0,68.4L118.3,70.0L119.1,72.0L119.4,74.0L119.2,76.0L118.1,78.0L117.0,78.7L115.0,78.5L113.0,77.1L111.4,75.0L110.6,73.0L110.5,71.0L111.0,68.7L112.0,67.4ZM86.0,77.8L88.0,77.9L90.0,79.0L95.8,87.0L78.9,87.0L82.9,80.0L84.0,78.9Z"/><path fill="#b5b5fd" fill-rule="evenodd" d="M-3.0,6.9L12.7,19.0L20.0,23.3L23.0,24.4L25.0,24.6L32.0,23.6L36.0,25.5L42.0,26.6L48.0,29.1L49.1,30.0L49.5,32.0L49.0,33.2L47.0,34.8L45.0,35.0L39.0,32.7L35.0,32.3L32.0,33.3L29.4,35.0L28.2,37.0L28.3,38.0L28.9,39.0L31.6,41.0L36.0,42.7L38.0,42.6L44.0,40.3L46.0,40.7L52.1,45.0L57.0,49.1L61.0,51.6L62.9,54.0L63.6,57.0L63.0,59.3L62.0,60.5L55.8,65.0L46.4,74.0L42.2,80.0L40.3,84.0L39.4,87.0L-4.0,87.0L-4.0,6.5ZM12.5,32.0L12.0,33.0L12.5,38.0L12.9,39.0L15.0,40.8L16.0,41.3L17.0,41.3L18.0,40.3L19.2,38.0L19.3,36.0L18.9,35.0L18.0,33.7L16.0,32.3L14.0,31.8ZM17.0,43.4L13.3,48.0L12.2,50.0L12.2,52.0L12.8,53.0L14.0,53.8L16.0,53.9L18.0,53.1L20.0,51.1L21.5,48.0L21.1,46.0L20.0,44.7L18.0,43.4ZM91.0,42.8L101.0,42.2L103.0,43.0L104.2,46.0L106.1,49.0L106.6,51.0L106.4,53.0L105.0,55.3L102.0,57.3L95.0,57.9L92.0,57.3L88.3,55.0L87.0,53.0L86.8,51.0L88.4,45.0L89.1,44.0Z"/><path fill="#e6e6fd" fill-rule="evenodd" d="M-4.0,18.8L2.0,21.5L6.2,25.0L7.3,27.0L7.9,32.0L8.8,35.0L6.7,39.0L5.5,44.0L2.9,50.0L1.6,54.0L1.2,60.0L2.8,69.0L2.9,73.0L1.7,78.0L-1.7,87.0L-4.0,87.0ZM30.0,28.0L30.1,28.0L30.0,28.0ZM25.0,43.5L31.0,44.1L35.0,46.0L37.0,46.5L42.0,45.5L43.0,45.7L47.0,47.7L52.0,51.9L53.4,54.0L53.7,58.0L53.2,60.0L51.4,62.0L49.0,63.2L36.0,65.5L25.0,69.5L21.0,69.9L17.8,69.0L16.5,68.0L15.5,66.0L15.8,62.0L18.6,55.0L23.2,47.0L24.0,44.0ZM94.0,47.0L97.0,47.0L99.0,47.7L102.0,50.8L102.3,52.0L102.0,52.5L101.0,53.1L95.0,53.5L93.0,53.5L91.2,53.0L90.5,52.0L91.0,49.2L92.0,47.9Z"/><path fill="#fde6e6" fill-rule="evenodd" d="M-4.0,31.1L0.0,31.0L2.1,32.0L3.2,34.0L3.0,35.3L2.0,36.7L-1.0,38.1L-4.0,38.4ZM25.0,47.8L27.0,47.4L30.0,48.6L33.0,48.9L36.0,49.8L46.0,51.1L50.5,54.0L51.1,55.0L51.3,57.0L50.0,58.8L48.0,59.5L43.0,59.6L33.0,58.0L28.0,58.1L25.0,59.0L23.0,58.8L22.0,58.1L21.0,56.7L20.6,55.0L20.7,53.0L22.0,50.3Z"/><path fill="#fdb5b5" fill-rule="evenodd" d="M24.0,49.9L27.0,49.5L31.0,50.8L46.0,53.0L47.7,54.0L48.6,55.0L48.9,56.0L48.0,57.1L45.0,57.5L29.0,54.9L24.0,55.5L23.0,55.0L21.9,53.0L22.6,51.0Z"/><path fill="#fd8585" fill-rule="evenodd" d="M25.0,52.0L27.0,51.8L27.8,52.0L27.0,52.5Z"/>
</g>
<use href="#lines"/>
</g>
<use href="#dash"/><use href="#inset"/>
<rect x="0" y="0" width="147.1" height="83.5" fill="none" stroke="#111" stroke-width="1.1"/>
<path d="M0,77.0h-3.5M0,66.0h-3.5M0,55.0h-3.5M0,44.0h-3.5M0,33.0h-3.5M0,22.0h-3.5M0,11.0h-3.5M0,0.0h-3.5M6.9,83.5v3.5M41.4,83.5v3.5M75.9,83.5v3.5M110.4,83.5v3.5M144.8,83.5v3.5" stroke="#222" stroke-width="0.9" fill="none"/>
<text class="a" transform="translate(-7.7,79.8) scale(1.08,1)" text-anchor="end">20°N</text>
<text class="a" transform="translate(-7.7,68.8) scale(1.08,1)" text-anchor="end">25°N</text>
<text class="a" transform="translate(-7.7,57.8) scale(1.08,1)" text-anchor="end">30°N</text>
<text class="a" transform="translate(-7.7,46.8) scale(1.08,1)" text-anchor="end">35°N</text>
<text class="a" transform="translate(-7.7,35.8) scale(1.08,1)" text-anchor="end">40°N</text>
<text class="a" transform="translate(-7.7,24.8) scale(1.08,1)" text-anchor="end">45°N</text>
<text class="a" transform="translate(-7.7,13.8) scale(1.08,1)" text-anchor="end">50°N</text>
<text class="a" transform="translate(-7.7,2.8) scale(1.08,1)" text-anchor="end">55°N</text>
<text class="a" style="font-size:7.2px" transform="translate(6.9,97.1) scale(1.02,1)" text-anchor="middle">75°E</text>
<text class="a" style="font-size:7.2px" transform="translate(41.4,97.1) scale(1.02,1)" text-anchor="middle">90°E</text>
<text class="a" style="font-size:7.2px" transform="translate(75.9,97.1) scale(1.02,1)" text-anchor="middle">105°E</text>
<text class="a" style="font-size:7.2px" transform="translate(110.4,97.1) scale(1.02,1)" text-anchor="middle">120°E</text>
<text class="a" style="font-size:7.2px" transform="translate(144.8,97.1) scale(1.02,1)" text-anchor="middle">135°E</text>
<text class="l" transform="translate(-0.5,-8.2) scale(0.99,1)">(c)</text>
<text class="t" transform="translate(22.2,-6.9) scale(1.07,1)">20210114<tspan textLength="6.0" lengthAdjust="spacingAndGlyphs">-</tspan>20210117</text>
</g>
<g transform="translate(28.45,140.45)">
<g clip-path="url(#fr)">
<g clip-path="url(#cn)">
<rect x="-2" y="-2" width="151.1" height="87.5" fill="#00fdfd"/><path fill="#08defd" fill-rule="evenodd" d="M-4.0,-4.0L151.0,-4.0L151.0,87.0L-4.0,87.0ZM95.9,30.0L94.5,31.0L94.6,32.0L97.0,32.9L98.0,32.9L99.0,32.1L99.0,31.0L98.0,30.1ZM99.9,41.0L98.4,43.0L98.0,46.0L99.6,54.0L100.3,66.0L101.3,68.0L103.0,68.5L104.2,68.0L106.1,64.0L107.7,62.0L112.0,60.0L113.0,59.1L113.5,57.0L113.4,54.0L112.0,49.2L108.9,43.0L107.0,41.7L103.0,40.3L101.0,40.4Z"/><path fill="#10bdfd" fill-rule="evenodd" d="M-4.0,-4.0L151.0,-4.0L151.0,87.0L-4.0,87.0ZM82.0,24.0L79.7,26.0L79.0,28.0L79.2,30.0L81.1,34.0L87.4,38.0L89.7,41.0L90.8,47.0L93.6,53.0L94.1,61.0L95.2,68.0L96.0,71.0L97.0,72.8L98.3,74.0L101.0,74.7L103.0,74.4L104.0,74.0L106.0,72.0L110.0,65.4L115.5,62.0L117.8,59.0L118.5,57.0L118.9,54.0L118.5,51.0L117.6,48.0L114.9,43.0L108.8,35.0L108.1,33.0L107.5,29.0L107.1,28.0L106.0,27.1L101.0,26.4L89.0,23.3L85.0,23.2Z"/><path fill="#189dfd" fill-rule="evenodd" d="M-4.0,-4.0L151.0,-4.0L151.0,87.0L-4.0,87.0ZM77.2,16.0L74.0,17.4L71.0,20.0L69.0,24.0L69.2,27.0L70.8,29.0L73.0,31.0L77.0,33.7L83.5,39.0L85.7,42.0L90.1,59.0L92.2,71.0L93.5,74.0L96.0,76.5L98.0,77.7L101.0,78.4L104.0,77.9L106.0,76.7L107.5,75.0L110.3,69.0L111.7,67.0L119.2,63.0L122.0,60.0L123.4,57.0L123.8,54.0L123.6,51.0L122.7,48.0L119.9,43.0L113.4,35.0L112.3,33.0L110.5,28.0L108.8,26.0L107.0,25.1L101.0,23.8L92.0,18.7L87.0,16.5L82.0,15.5Z"/><path fill="#207dfd" fill-rule="evenodd" d="M-4.0,-4.0L151.0,-4.0L151.0,87.0L-4.0,87.0ZM75.0,6.4L70.0,8.0L67.0,10.2L65.0,12.5L63.0,16.0L62.0,19.0L61.3,23.0L61.5,27.0L62.2,29.0L65.0,31.6L70.0,33.3L77.0,36.4L80.0,38.6L81.9,41.0L82.7,43.0L83.3,46.0L83.4,56.0L86.1,61.0L87.7,68.0L88.2,72.0L89.1,74.0L95.0,79.5L98.0,81.5L102.0,82.5L106.0,81.8L108.0,80.5L110.0,78.0L110.8,76.0L111.9,71.0L113.0,68.8L115.0,67.8L119.8,67.0L122.6,66.0L125.6,64.0L127.4,62.0L129.0,59.0L129.8,55.0L129.6,52.0L128.4,48.0L126.9,45.0L124.8,42.0L116.7,34.0L115.5,32.0L113.6,27.0L112.0,24.9L109.0,23.4L102.8,22.0L92.0,12.3L85.0,8.1L81.0,6.8L78.0,6.3Z"/><path fill="#285dfd" fill-rule="evenodd" d="M-4.0,-4.0L62.9,-4.0L60.0,-0.5L58.0,2.7L56.7,6.0L55.8,10.0L55.2,15.0L55.3,20.0L55.9,24.0L57.1,28.0L58.7,31.0L61.3,33.0L65.0,34.7L76.0,38.1L78.8,40.0L79.8,42.0L80.1,45.0L78.8,55.0L78.9,60.0L79.3,62.0L82.0,68.0L83.0,73.0L84.7,75.0L89.7,78.0L94.0,83.2L98.1,87.0L-4.0,87.0ZM83.6,-4.0L151.0,-4.0L151.0,87.0L111.6,87.0L115.3,83.0L119.0,75.9L120.5,75.0L126.0,73.4L129.0,72.1L132.0,70.0L134.8,67.0L137.0,63.0L137.9,59.0L137.9,55.0L137.1,51.0L135.3,47.0L132.7,43.0L128.0,38.0L120.0,31.1L117.2,26.0L115.7,24.0L113.0,22.1L107.0,20.3L104.6,19.0L94.0,5.2L90.0,1.2Z"/><path fill="#303cfd" fill-rule="evenodd" d="M-4.0,-4.0L41.9,-4.0L46.4,10.0L50.0,23.0L51.3,26.0L53.3,29.0L56.5,33.0L59.2,35.0L65.0,37.8L75.0,40.7L76.6,42.0L76.4,48.0L75.1,59.0L75.7,64.0L78.6,73.0L79.6,75.0L82.0,77.7L87.2,80.0L88.1,81.0L90.7,87.0L-4.0,87.0ZM98.5,-4.0L151.0,-4.0L151.0,53.9L146.7,47.0L143.3,43.0L138.9,39.0L127.1,30.0L119.0,20.7L116.0,18.9L111.0,17.9L108.9,17.0L106.4,13.0L98.8,-3.0ZM151.0,73.5L151.0,87.0L140.8,87.0L146.1,81.0Z"/><path fill="#5555fd" fill-rule="evenodd" d="M110.0,-4.0L151.0,-4.0L151.0,33.0L142.0,31.0L137.0,29.3L132.0,26.5L127.2,23.0L125.6,21.0L124.0,16.5L123.0,15.1L121.0,13.3L115.6,11.0L113.5,9.0L111.4,4.0L110.0,-2.0ZM11.0,9.8L15.0,9.1L20.0,9.2L28.0,10.6L34.0,10.8L37.0,11.9L39.0,13.5L41.0,16.3L42.6,20.0L45.2,28.0L47.0,30.7L52.0,33.4L55.0,37.3L59.7,39.0L64.0,41.4L69.0,42.9L71.1,44.0L72.5,46.0L73.5,50.0L72.0,59.0L72.7,65.0L76.7,77.0L78.5,80.0L82.4,85.0L83.3,87.0L-4.0,87.0L-4.0,44.1L-1.0,43.7L2.0,42.3L3.1,41.0L3.9,38.0L3.3,35.0L0.2,31.0L-1.2,28.0L-1.8,25.0L-1.6,22.0L-0.2,18.0L3.0,14.0L7.0,11.3Z"/><path fill="#8585fd" fill-rule="evenodd" d="M124.0,-3.9L151.0,-4.0L151.0,7.7L147.0,9.7L143.0,12.9L141.9,15.0L141.8,21.0L141.3,22.0L140.0,22.9L137.0,23.1L132.0,21.8L129.0,20.3L127.8,19.0L127.0,17.0L123.6,4.0L123.4,1.0ZM32.0,17.7L35.0,18.0L37.2,20.0L38.4,23.0L39.8,29.0L40.0,31.0L39.5,33.0L36.0,36.9L35.5,38.0L35.6,40.0L36.5,41.0L47.0,45.2L52.0,46.3L55.0,46.2L60.0,45.3L66.0,46.1L69.0,47.2L70.6,49.0L71.1,51.0L69.5,58.0L69.4,64.0L71.6,71.0L75.6,87.0L-4.0,87.0L-4.0,69.2L2.0,65.2L9.0,59.2L14.0,53.3L16.2,49.0L16.5,47.0L16.0,45.0L9.8,34.0L9.4,31.0L10.0,29.0L12.0,26.6L18.0,24.0L20.8,21.0L22.2,20.0L25.0,19.0L29.0,18.5Z"/><path fill="#b5b5fd" fill-rule="evenodd" d="M132.0,11.3L134.0,11.1L135.0,11.6L136.5,14.0L136.8,17.0L136.4,18.0L135.0,18.9L133.0,18.8L131.0,18.0L129.7,17.0L129.3,16.0L130.0,13.4ZM31.0,21.0L32.0,21.0L33.0,21.6L34.0,23.0L36.0,28.6L36.2,31.0L35.1,33.0L32.9,35.0L30.6,38.0L29.8,40.0L30.0,42.0L32.0,44.1L37.2,46.0L39.0,47.4L41.5,52.0L43.0,57.8L44.0,58.0L47.8,55.0L51.0,53.2L56.0,52.0L60.0,50.5L64.0,50.3L66.0,50.9L67.0,51.8L66.6,65.0L68.6,70.0L69.3,73.0L68.8,87.0L11.9,87.0L22.2,64.0L23.9,58.0L24.7,52.0L24.6,47.0L23.6,44.0L22.0,42.0L16.4,37.0L15.3,35.0L15.2,33.0L17.0,31.1L21.0,28.8L26.0,23.2Z"/><path fill="#e6e6fd" fill-rule="evenodd" d="M57.0,55.7L59.0,55.3L61.0,55.4L62.1,56.0L63.3,58.0L63.9,60.0L63.4,64.0L63.6,66.0L66.2,71.0L66.6,73.0L66.3,75.0L65.0,77.8L63.0,81.2L58.5,87.0L40.3,87.0L39.1,83.0L38.9,80.0L39.5,76.0L40.7,73.0L42.7,70.0L48.0,63.8L51.0,58.9L53.0,57.4Z"/>
</g>
<use href="#lines"/>
</g>
<use href="#dash"/><use href="#inset"/>
<rect x="0" y="0" width="147.1" height="83.5" fill="none" stroke="#111" stroke-width="1.1"/>
<path d="M0,77.0h-3.5M0,66.0h-3.5M0,55.0h-3.5M0,44.0h-3.5M0,33.0h-3.5M0,22.0h-3.5M0,11.0h-3.5M0,0.0h-3.5M6.9,83.5v3.5M41.4,83.5v3.5M75.9,83.5v3.5M110.4,83.5v3.5M144.8,83.5v3.5" stroke="#222" stroke-width="0.9" fill="none"/>
<text class="a" transform="translate(-7.7,79.8) scale(1.08,1)" text-anchor="end">20°N</text>
<text class="a" transform="translate(-7.7,68.8) scale(1.08,1)" text-anchor="end">25°N</text>
<text class="a" transform="translate(-7.7,57.8) scale(1.08,1)" text-anchor="end">30°N</text>
<text class="a" transform="translate(-7.7,46.8) scale(1.08,1)" text-anchor="end">35°N</text>
<text class="a" transform="translate(-7.7,35.8) scale(1.08,1)" text-anchor="end">40°N</text>
<text class="a" transform="translate(-7.7,24.8) scale(1.08,1)" text-anchor="end">45°N</text>
<text class="a" transform="translate(-7.7,13.8) scale(1.08,1)" text-anchor="end">50°N</text>
<text class="a" transform="translate(-7.7,2.8) scale(1.08,1)" text-anchor="end">55°N</text>
<text class="a" style="font-size:7.2px" transform="translate(6.9,97.1) scale(1.02,1)" text-anchor="middle">75°E</text>
<text class="a" style="font-size:7.2px" transform="translate(41.4,97.1) scale(1.02,1)" text-anchor="middle">90°E</text>
<text class="a" style="font-size:7.2px" transform="translate(75.9,97.1) scale(1.02,1)" text-anchor="middle">105°E</text>
<text class="a" style="font-size:7.2px" transform="translate(110.4,97.1) scale(1.02,1)" text-anchor="middle">120°E</text>
<text class="a" style="font-size:7.2px" transform="translate(144.8,97.1) scale(1.02,1)" text-anchor="middle">135°E</text>
<text class="l" transform="translate(-0.5,-8.2) scale(0.99,1)">(d)</text>
<text class="t" transform="translate(22.2,-6.9) scale(1.07,1)">20201228<tspan textLength="6.0" lengthAdjust="spacingAndGlyphs">-</tspan>20201231</text>
</g>
<g transform="translate(209.85,140.45)">
<g clip-path="url(#fr)">
<g clip-path="url(#cn)">
<rect x="-2" y="-2" width="151.1" height="87.5" fill="#00fdfd"/><path fill="#08defd" fill-rule="evenodd" d="M-4.0,-4.0L151.0,-4.0L151.0,87.0L-4.0,87.0ZM106.8,49.0L105.5,50.0L105.0,51.0L105.0,54.0L105.8,55.0L107.0,55.5L109.0,55.7L111.0,55.3L112.0,54.2L112.4,53.0L112.0,50.8L110.0,49.1Z"/><path fill="#10bdfd" fill-rule="evenodd" d="M-4.0,-4.0L151.0,-4.0L151.0,87.0L-4.0,87.0ZM105.5,46.0L103.3,48.0L101.6,51.0L101.6,54.0L103.0,57.0L104.0,58.1L106.0,59.1L112.0,60.4L114.0,60.1L115.9,58.0L117.0,55.0L116.9,52.0L116.1,50.0L114.0,47.4L111.4,46.0L108.0,45.5Z"/><path fill="#189dfd" fill-rule="evenodd" d="M-4.0,-4.0L151.0,-4.0L151.0,87.0L-4.0,87.0ZM105.8,43.0L104.0,43.6L102.3,45.0L98.7,51.0L99.0,54.0L102.9,64.0L104.0,64.7L105.0,64.7L109.0,63.5L114.0,63.0L116.6,62.0L119.8,59.0L121.2,56.0L121.3,52.0L120.1,49.0L117.6,46.0L114.0,43.8L110.0,42.8Z"/><path fill="#207dfd" fill-rule="evenodd" d="M-4.0,-4.0L151.0,-4.0L151.0,87.0L-4.0,87.0ZM107.4,40.0L104.0,40.7L100.8,42.0L93.3,47.0L92.7,48.0L93.4,50.0L97.0,56.0L97.6,59.0L97.0,61.5L93.0,66.3L90.9,70.0L90.6,72.0L90.8,73.0L92.0,74.1L98.0,75.9L100.0,76.0L102.0,75.5L104.0,74.0L106.7,69.0L109.0,66.6L111.0,65.5L117.0,64.5L120.9,63.0L123.6,61.0L125.7,58.0L126.5,55.0L126.4,52.0L125.3,49.0L123.0,45.8L119.5,43.0L115.5,41.0L112.0,40.1Z"/><path fill="#285dfd" fill-rule="evenodd" d="M-4.0,-4.0L151.0,-4.0L151.0,87.0L-4.0,87.0ZM107.8,36.0L100.0,38.3L88.0,43.5L86.0,43.4L84.0,41.8L83.0,41.6L79.0,43.1L75.7,45.0L75.6,46.0L76.8,48.0L80.6,51.0L83.0,54.7L89.0,57.4L90.0,58.0L90.5,59.0L89.5,63.0L86.0,69.0L85.9,71.0L86.4,72.0L88.2,74.0L90.8,76.0L98.0,79.0L102.0,79.2L105.0,77.8L107.0,75.2L109.7,69.0L112.0,67.2L114.0,66.8L122.0,66.8L125.1,66.0L128.0,64.5L129.9,63.0L131.6,61.0L133.3,57.0L133.5,53.0L132.7,50.0L131.0,47.0L128.0,43.7L124.0,41.0L119.0,38.7L112.0,36.4Z"/><path fill="#303cfd" fill-rule="evenodd" d="M-4.0,-4.0L151.0,-4.0L151.0,87.0L-4.0,87.0ZM99.1,25.0L97.0,25.8L95.2,27.0L92.7,30.0L92.4,31.0L93.5,34.0L93.2,35.0L88.0,38.2L87.0,38.4L83.0,37.5L80.0,38.4L74.0,42.2L72.4,44.0L72.1,46.0L72.7,49.0L76.3,56.0L78.2,64.0L79.0,70.0L81.0,73.6L83.0,74.8L86.0,75.1L88.0,75.9L95.0,80.8L98.0,82.4L101.0,83.2L103.0,83.3L107.0,82.0L109.3,80.0L110.7,77.0L111.6,71.0L112.1,70.0L113.0,69.4L115.0,69.5L122.0,72.2L128.0,72.7L134.0,71.3L137.0,69.8L139.3,68.0L141.2,66.0L143.2,63.0L144.3,60.0L144.8,56.0L144.4,53.0L143.6,50.0L142.0,47.0L139.7,44.0L136.1,41.0L132.5,39.0L116.0,33.4L113.3,31.0L110.0,26.4L108.0,24.9L105.0,24.4Z"/><path fill="#5555fd" fill-rule="evenodd" d="M-4.0,-4.0L151.0,-4.0L151.0,35.2L143.0,32.0L135.0,29.7L132.0,29.3L126.8,30.0L125.5,29.0L123.3,26.0L119.3,22.0L116.8,20.0L115.0,19.2L109.0,18.7L102.0,16.8L98.0,16.2L94.0,16.2L90.0,17.1L86.0,19.1L82.9,22.0L81.0,25.0L77.0,33.0L76.0,33.3L74.0,31.9L72.0,31.8L70.0,33.0L69.2,34.0L68.8,35.0L69.0,36.0L71.0,38.0L71.5,39.0L71.4,40.0L69.9,44.0L69.1,49.0L67.2,51.0L66.7,52.0L71.0,55.2L72.4,57.0L73.2,60.0L73.5,67.0L75.1,71.0L77.0,74.1L79.0,76.0L81.0,76.9L86.0,76.9L88.8,78.0L97.2,87.0L-4.0,87.0ZM140.4,87.0L151.0,83.5L151.0,87.0Z"/><path fill="#8585fd" fill-rule="evenodd" d="M81.6,-4.0L151.0,-4.0L151.0,17.0L148.0,17.5L144.0,20.4L142.0,21.3L138.0,21.6L135.0,21.0L129.9,19.0L126.0,15.9L124.0,14.8L121.0,13.9L115.0,13.0L111.0,11.7L97.0,3.3ZM36.0,11.8L40.0,11.3L49.0,12.1L53.0,13.8L56.3,17.0L58.8,21.0L61.5,27.0L65.0,30.7L65.9,35.0L67.6,40.0L67.0,43.2L65.6,46.0L64.0,46.9L58.5,48.0L56.4,49.0L55.5,50.0L57.8,51.0L62.0,51.8L65.0,55.8L68.7,59.0L69.4,61.0L70.6,69.0L72.7,74.0L75.0,77.2L77.0,78.8L80.0,79.9L82.0,79.8L86.0,78.8L87.2,79.0L88.9,81.0L91.1,87.0L-4.0,87.0L-4.0,59.8L1.0,57.6L7.0,53.7L10.9,50.0L12.5,47.0L12.4,45.0L11.8,43.0L9.0,40.0L7.8,38.0L7.5,32.0L8.2,29.0L10.0,26.8L13.0,25.5L16.0,25.5L24.0,27.0L26.0,26.6L27.4,25.0L28.7,20.0L31.0,15.9L33.0,13.6ZM31.9,33.0L30.0,33.5L29.0,34.5L28.5,36.0L29.0,38.1L31.0,39.5L36.0,41.1L38.0,41.4L40.0,40.6L40.9,39.0L41.0,38.0L40.2,36.0L39.2,35.0L37.0,34.0Z"/><path fill="#b5b5fd" fill-rule="evenodd" d="M116.0,-4.0L145.2,-4.0L140.6,6.0L139.9,10.0L139.7,15.0L139.3,16.0L138.0,16.6L137.0,16.5L134.4,15.0L131.8,9.0L129.0,5.9L126.0,4.4L119.0,2.8L117.1,0.0ZM45.0,29.6L48.0,29.7L52.0,31.4L56.0,31.7L62.0,33.8L63.0,35.2L64.0,39.0L63.0,42.0L60.6,44.0L58.0,44.8L51.0,44.5L49.0,43.7L48.0,42.4L47.7,41.0L47.9,40.0L49.3,38.0L49.3,37.0L46.0,35.0L44.0,33.0L43.7,31.0ZM14.0,31.8L18.0,31.0L21.0,31.4L22.4,32.0L23.2,33.0L23.3,34.0L20.3,39.0L20.1,40.0L20.7,41.0L25.0,43.1L29.0,44.1L34.0,47.8L38.0,52.4L41.0,58.0L43.0,59.5L46.0,59.6L48.0,58.6L51.4,56.0L54.6,55.0L58.0,54.6L60.0,55.3L65.3,64.0L69.4,76.0L71.2,80.0L74.0,83.2L80.2,87.0L2.3,87.0L12.0,74.7L17.0,67.6L20.0,62.4L25.0,52.0L25.0,49.9L24.0,49.1L21.0,48.0L20.0,47.1L18.8,45.0L18.4,41.0L15.0,38.0L13.0,35.6L12.5,34.0L12.7,33.0Z"/><path fill="#e6e6fd" fill-rule="evenodd" d="M55.0,68.8L57.0,68.6L59.0,69.3L61.0,71.4L63.0,74.6L63.3,76.0L62.8,82.0L63.0,87.0L37.2,87.0L39.1,82.0L42.6,77.0L48.9,72.0L52.2,70.0Z"/>
</g>
<use href="#lines"/>
</g>
<use href="#dash"/><use href="#inset"/>
<rect x="0" y="0" width="147.1" height="83.5" fill="none" stroke="#111" stroke-width="1.1"/>
<path d="M0,77.0h-3.5M0,66.0h-3.5M0,55.0h-3.5M0,44.0h-3.5M0,33.0h-3.5M0,22.0h-3.5M0,11.0h-3.5M0,0.0h-3.5M6.9,83.5v3.5M41.4,83.5v3.5M75.9,83.5v3.5M110.4,83.5v3.5M144.8,83.5v3.5" stroke="#222" stroke-width="0.9" fill="none"/>
<text class="a" transform="translate(-7.7,79.8) scale(1.08,1)" text-anchor="end">20°N</text>
<text class="a" transform="translate(-7.7,68.8) scale(1.08,1)" text-anchor="end">25°N</text>
<text class="a" transform="translate(-7.7,57.8) scale(1.08,1)" text-anchor="end">30°N</text>
<text class="a" transform="translate(-7.7,46.8) scale(1.08,1)" text-anchor="end">35°N</text>
<text class="a" transform="translate(-7.7,35.8) scale(1.08,1)" text-anchor="end">40°N</text>
<text class="a" transform="translate(-7.7,24.8) scale(1.08,1)" text-anchor="end">45°N</text>
<text class="a" transform="translate(-7.7,13.8) scale(1.08,1)" text-anchor="end">50°N</text>
<text class="a" transform="translate(-7.7,2.8) scale(1.08,1)" text-anchor="end">55°N</text>
<text class="a" style="font-size:7.2px" transform="translate(6.9,97.1) scale(1.02,1)" text-anchor="middle">75°E</text>
<text class="a" style="font-size:7.2px" transform="translate(41.4,97.1) scale(1.02,1)" text-anchor="middle">90°E</text>
<text class="a" style="font-size:7.2px" transform="translate(75.9,97.1) scale(1.02,1)" text-anchor="middle">105°E</text>
<text class="a" style="font-size:7.2px" transform="translate(110.4,97.1) scale(1.02,1)" text-anchor="middle">120°E</text>
<text class="a" style="font-size:7.2px" transform="translate(144.8,97.1) scale(1.02,1)" text-anchor="middle">135°E</text>
<text class="l" transform="translate(-0.5,-8.2) scale(0.99,1)">(e)</text>
<text class="t" transform="translate(22.2,-6.9) scale(1.07,1)">20210105<tspan textLength="6.0" lengthAdjust="spacingAndGlyphs">-</tspan>20210108</text>
</g>
<g transform="translate(391.4,140.45)">
<g clip-path="url(#fr)">
<g clip-path="url(#cn)">
<rect x="-2" y="-2" width="151.1" height="87.5" fill="#00fdfd"/><path fill="#08defd" fill-rule="evenodd" d="M-4.0,-4.0L151.0,-4.0L151.0,87.0L-4.0,87.0ZM67.0,27.5L65.6,29.0L65.4,30.0L66.2,34.0L67.5,36.0L71.0,38.1L75.0,39.1L77.0,38.6L79.4,37.0L79.5,36.0L78.0,34.0L75.0,30.8L73.0,29.3L69.0,27.4Z"/><path fill="#10bdfd" fill-rule="evenodd" d="M-4.0,-4.0L151.0,-4.0L151.0,87.0L-4.0,87.0ZM66.9,20.0L65.0,20.4L62.6,22.0L61.3,24.0L60.9,26.0L61.5,29.0L65.2,36.0L66.0,37.0L69.2,39.0L73.0,40.3L76.0,40.4L81.7,39.0L82.6,38.0L82.4,36.0L79.4,32.0L75.0,23.8L73.0,21.8L71.0,20.6L69.0,20.0Z"/><path fill="#189dfd" fill-rule="evenodd" d="M-4.0,-4.0L151.0,-4.0L151.0,87.0L-4.0,87.0ZM63.3,13.0L61.0,14.1L58.4,16.0L56.5,18.0L55.3,20.0L55.2,23.0L57.9,29.0L62.0,33.0L65.0,37.8L70.0,40.8L75.0,41.7L78.0,41.1L82.0,41.2L84.0,40.3L85.3,39.0L85.7,37.0L82.7,34.0L81.4,32.0L80.8,29.0L80.6,22.0L78.8,18.0L76.0,15.0L72.0,12.8L68.0,12.1ZM8.4,14.0L6.3,15.0L5.0,16.6L4.3,19.0L4.4,21.0L5.3,24.0L7.6,28.0L9.4,30.0L11.0,30.2L15.9,26.0L18.0,22.1L20.8,20.0L20.9,19.0L17.0,16.1L14.0,14.6L11.0,13.8Z"/><path fill="#207dfd" fill-rule="evenodd" d="M4.4,-4.0L151.0,-4.0L151.0,87.0L-4.0,87.0L-4.0,24.9L4.0,30.1L9.0,34.3L10.0,34.6L12.0,34.0L19.0,24.4L21.0,22.9L26.0,21.0L30.0,22.3L32.0,22.1L34.0,21.5L35.0,21.6L38.0,23.2L42.0,23.6L45.0,25.1L50.0,25.7L52.0,26.6L56.5,31.0L60.6,34.0L64.0,38.6L69.0,41.7L73.0,42.8L75.0,42.8L78.0,42.1L83.0,43.1L85.0,42.8L87.0,41.7L88.8,40.0L92.5,35.0L101.1,31.0L103.5,29.0L104.6,27.0L104.0,25.0L103.0,24.2L93.3,20.0L91.0,18.6L83.0,9.8L79.0,6.3L75.0,3.9L70.0,2.5L65.0,2.8L60.0,5.1L56.0,8.5L49.0,16.4L46.9,18.0L44.0,19.5L42.0,19.9L38.0,19.4L35.0,19.7L31.0,18.6L27.0,19.0L26.0,18.7L23.4,16.0L13.0,3.3ZM103.4,46.0L101.8,47.0L100.6,49.0L101.3,51.0L103.0,52.5L105.0,53.4L108.0,53.6L110.1,53.0L112.0,51.5L112.7,49.0L112.0,47.4L111.0,46.6L106.0,45.7ZM85.0,28.3L86.0,28.1L87.0,28.5L88.2,31.0L87.7,33.0L86.0,33.7L84.0,33.1L83.3,32.0L83.4,30.0Z"/><path fill="#285dfd" fill-rule="evenodd" d="M22.4,-4.0L51.9,-4.0L47.4,10.0L45.4,14.0L43.9,16.0L42.0,17.4L40.0,17.7L32.0,16.8L29.0,16.8L26.8,16.0L24.9,13.0L23.2,7.0L22.4,-1.0ZM84.0,-4.0L151.0,-4.0L151.0,87.0L-4.0,87.0L-4.0,33.1L3.0,33.8L4.9,35.0L7.0,37.7L8.0,38.1L10.0,38.1L12.0,37.3L14.0,35.6L16.5,30.0L19.4,26.0L21.0,24.5L23.0,23.7L26.0,23.2L35.0,23.7L42.0,25.5L50.0,28.7L59.0,35.6L62.0,39.0L68.0,42.7L74.0,44.3L78.0,43.4L79.0,43.6L83.0,45.8L86.0,46.2L88.0,45.8L91.0,44.4L96.0,38.9L106.0,32.9L107.3,31.0L108.0,28.0L107.8,25.0L107.0,23.2L100.7,18.0L96.8,14.0L84.4,-3.0ZM103.5,43.0L100.0,43.7L98.0,44.5L95.2,46.0L94.3,47.0L93.8,49.0L94.0,52.0L94.7,54.0L96.1,56.0L99.0,57.6L106.0,58.3L113.0,56.9L116.0,55.0L117.5,53.0L118.2,50.0L117.5,47.0L115.9,45.0L114.0,43.8L112.0,43.2Z"/><path fill="#303cfd" fill-rule="evenodd" d="M96.0,-4.0L151.0,-4.0L151.0,9.0L148.0,10.2L145.0,12.3L143.6,14.0L143.0,16.0L143.8,18.0L145.0,19.1L148.0,20.6L151.0,21.4L151.0,87.0L-4.0,87.0L-4.0,42.1L1.0,41.6L7.0,41.5L12.0,40.3L14.0,39.3L16.2,37.0L17.1,32.0L18.6,29.0L20.9,26.0L23.0,25.0L27.0,24.5L36.0,25.2L41.0,26.5L46.5,29.0L53.0,35.6L61.0,41.0L68.0,44.6L73.0,46.4L78.0,47.7L81.2,52.0L83.5,58.0L85.4,61.0L88.4,64.0L91.0,65.4L94.0,65.6L101.0,64.6L107.0,62.8L113.0,62.0L118.1,60.0L122.6,57.0L124.3,55.0L125.7,52.0L126.1,49.0L125.4,46.0L123.5,43.0L121.3,41.0L119.0,39.6L113.0,37.1L112.1,36.0L111.5,30.0L109.7,23.0L109.0,21.8L105.2,18.0L101.3,11.0L98.8,5.0L96.5,-2.0ZM36.9,38.0L36.0,38.2L35.6,39.0L37.0,39.7L37.9,39.0ZM33.0,2.8L35.0,2.2L37.0,2.4L39.0,3.7L40.0,4.9L41.0,7.2L41.4,10.0L41.1,13.0L40.0,14.7L34.0,14.8L30.0,14.1L29.0,13.4L28.6,11.0L29.5,7.0L31.0,4.5Z"/><path fill="#5555fd" fill-rule="evenodd" d="M106.0,-4.0L143.8,-4.0L140.5,14.0L140.5,18.0L142.6,23.0L143.4,27.0L142.9,31.0L141.0,34.2L139.0,35.3L137.0,35.5L134.0,35.0L131.0,33.8L126.3,31.0L124.0,26.1L123.0,26.1L120.0,27.9L118.0,28.6L116.0,28.3L114.0,26.7L112.8,25.0L111.0,20.4L108.9,18.0L108.0,16.0L105.9,5.0L105.6,0.0ZM24.0,26.0L31.0,25.8L39.0,27.0L44.8,30.0L45.6,31.0L45.8,33.0L44.0,34.6L41.0,35.6L36.0,35.3L32.0,36.1L27.0,34.9L25.0,35.1L22.0,36.2L21.0,36.2L20.0,35.4L19.3,34.0L18.9,33.0L19.1,31.0L21.0,27.5L22.0,26.6ZM21.0,39.9L26.0,41.6L31.0,41.9L36.0,44.1L39.1,45.0L40.6,46.0L41.5,48.0L41.0,50.0L36.3,54.0L36.0,55.0L36.0,56.0L37.0,57.9L39.0,59.3L41.0,59.6L43.0,59.3L52.0,55.8L59.0,57.5L64.0,56.6L65.0,56.9L67.9,60.0L69.0,60.7L75.0,62.6L85.0,68.5L89.0,69.3L93.0,69.5L103.0,69.2L111.0,65.9L121.4,65.0L126.6,64.0L134.3,61.0L147.0,53.6L151.0,52.4L151.0,87.0L-4.0,87.0L-4.0,55.6L-2.0,54.7L3.0,51.5L11.0,45.3L15.0,43.4L19.0,40.6ZM62.0,47.6L65.0,47.9L67.0,49.2L67.7,51.0L67.5,52.0L66.0,54.0L65.0,54.3L64.0,53.7L62.0,51.0L61.0,49.0L61.2,48.0Z"/><path fill="#8585fd" fill-rule="evenodd" d="M119.0,-4.0L128.5,-4.0L132.1,0.0L134.6,5.0L138.0,15.0L137.9,22.0L137.0,23.3L135.0,22.9L126.0,18.0L116.6,14.0L114.2,12.0L113.3,10.0L113.0,8.0L113.4,4.0L115.3,0.0ZM115.0,21.9L115.6,22.0L115.0,22.1ZM30.0,27.0L39.0,28.7L41.5,31.0L41.4,32.0L40.0,32.8L32.0,33.5L28.0,32.9L23.0,33.0L21.6,32.0L21.3,30.0L22.4,28.0L24.0,27.5ZM58.0,65.9L61.0,65.8L74.0,67.4L76.0,68.5L80.0,71.7L83.0,72.7L93.0,73.2L98.0,73.1L104.0,74.0L108.0,73.0L111.8,70.0L113.0,69.7L120.0,72.4L127.0,74.3L151.0,78.0L151.0,87.0L-4.0,87.0L-4.0,82.1L7.0,75.8L13.0,73.1L16.0,72.3L20.0,71.8L32.0,72.1L39.0,71.5L44.0,70.3L54.0,66.8Z"/><path fill="#b5b5fd" fill-rule="evenodd" d="M65.0,72.7L68.0,72.2L70.0,72.7L75.0,76.2L78.0,77.5L81.0,77.7L87.0,76.9L90.0,77.4L113.0,84.3L117.0,86.0L118.2,87.0L42.4,87.0L44.7,85.0L58.0,75.9L61.4,74.0Z"/>
</g>
<use href="#lines"/>
</g>
<use href="#dash"/><use href="#inset"/>
<rect x="0" y="0" width="147.1" height="83.5" fill="none" stroke="#111" stroke-width="1.1"/>
<path d="M0,77.0h-3.5M0,66.0h-3.5M0,55.0h-3.5M0,44.0h-3.5M0,33.0h-3.5M0,22.0h-3.5M0,11.0h-3.5M0,0.0h-3.5M6.9,83.5v3.5M41.4,83.5v3.5M75.9,83.5v3.5M110.4,83.5v3.5M144.8,83.5v3.5" stroke="#222" stroke-width="0.9" fill="none"/>
<text class="a" transform="translate(-7.7,79.8) scale(1.08,1)" text-anchor="end">20°N</text>
<text class="a" transform="translate(-7.7,68.8) scale(1.08,1)" text-anchor="end">25°N</text>
<text class="a" transform="translate(-7.7,57.8) scale(1.08,1)" text-anchor="end">30°N</text>
<text class="a" transform="translate(-7.7,46.8) scale(1.08,1)" text-anchor="end">35°N</text>
<text class="a" transform="translate(-7.7,35.8) scale(1.08,1)" text-anchor="end">40°N</text>
<text class="a" transform="translate(-7.7,24.8) scale(1.08,1)" text-anchor="end">45°N</text>
<text class="a" transform="translate(-7.7,13.8) scale(1.08,1)" text-anchor="end">50°N</text>
<text class="a" transform="translate(-7.7,2.8) scale(1.08,1)" text-anchor="end">55°N</text>
<text class="a" style="font-size:7.2px" transform="translate(6.9,97.1) scale(1.02,1)" text-anchor="middle">75°E</text>
<text class="a" style="font-size:7.2px" transform="translate(41.4,97.1) scale(1.02,1)" text-anchor="middle">90°E</text>
<text class="a" style="font-size:7.2px" transform="translate(75.9,97.1) scale(1.02,1)" text-anchor="middle">105°E</text>
<text class="a" style="font-size:7.2px" transform="translate(110.4,97.1) scale(1.02,1)" text-anchor="middle">120°E</text>
<text class="a" style="font-size:7.2px" transform="translate(144.8,97.1) scale(1.02,1)" text-anchor="middle">135°E</text>
<text class="l" transform="translate(-0.5,-8.2) scale(0.99,1)">(f)</text>
<text class="t" transform="translate(22.2,-6.9) scale(1.07,1)">20210114<tspan textLength="6.0" lengthAdjust="spacingAndGlyphs">-</tspan>20210117</text>
</g>
<rect x="95.40" y="250.9" width="16.35" height="10.4" fill="#00fdfd" stroke="#111" stroke-width="0.6"/>
<rect x="111.75" y="250.9" width="16.35" height="10.4" fill="#08defd" stroke="#111" stroke-width="0.6"/>
<rect x="128.10" y="250.9" width="16.35" height="10.4" fill="#10bdfd" stroke="#111" stroke-width="0.6"/>
<rect x="144.45" y="250.9" width="16.35" height="10.4" fill="#189dfd" stroke="#111" stroke-width="0.6"/>
<rect x="160.80" y="250.9" width="16.35" height="10.4" fill="#207dfd" stroke="#111" stroke-width="0.6"/>
<rect x="177.15" y="250.9" width="16.35" height="10.4" fill="#285dfd" stroke="#111" stroke-width="0.6"/>
<rect x="193.50" y="250.9" width="16.35" height="10.4" fill="#303cfd" stroke="#111" stroke-width="0.6"/>
<rect x="209.85" y="250.9" width="16.35" height="10.4" fill="#5555fd" stroke="#111" stroke-width="0.6"/>
<rect x="226.20" y="250.9" width="16.35" height="10.4" fill="#8585fd" stroke="#111" stroke-width="0.6"/>
<rect x="242.55" y="250.9" width="16.35" height="10.4" fill="#b5b5fd" stroke="#111" stroke-width="0.6"/>
<rect x="258.90" y="250.9" width="16.35" height="10.4" fill="#e6e6fd" stroke="#111" stroke-width="0.6"/>
<rect x="275.25" y="250.9" width="16.35" height="10.4" fill="#fde6e6" stroke="#111" stroke-width="0.6"/>
<rect x="291.60" y="250.9" width="16.35" height="10.4" fill="#fdb5b5" stroke="#111" stroke-width="0.6"/>
<rect x="307.95" y="250.9" width="16.35" height="10.4" fill="#fd8585" stroke="#111" stroke-width="0.6"/>
<rect x="324.30" y="250.9" width="16.35" height="10.4" fill="#fd5555" stroke="#111" stroke-width="0.6"/>
<rect x="340.65" y="250.9" width="16.35" height="10.4" fill="#fd3c30" stroke="#111" stroke-width="0.6"/>
<rect x="357.00" y="250.9" width="16.35" height="10.4" fill="#fd5d28" stroke="#111" stroke-width="0.6"/>
<rect x="373.35" y="250.9" width="16.35" height="10.4" fill="#fd7d20" stroke="#111" stroke-width="0.6"/>
<rect x="389.70" y="250.9" width="16.35" height="10.4" fill="#fd9d18" stroke="#111" stroke-width="0.6"/>
<rect x="406.05" y="250.9" width="16.35" height="10.4" fill="#fdbd10" stroke="#111" stroke-width="0.6"/>
<rect x="422.40" y="250.9" width="16.35" height="10.4" fill="#fde008" stroke="#111" stroke-width="0.6"/>
<rect x="438.75" y="250.9" width="16.35" height="10.4" fill="#fdfd00" stroke="#111" stroke-width="0.6"/>
<text class="c" transform="translate(111.8,269.8) scale(1.22,1)" text-anchor="middle"><tspan textLength="4.9" lengthAdjust="spacingAndGlyphs">-</tspan>14</text>
<text class="c" transform="translate(144.4,269.8) scale(1.22,1)" text-anchor="middle"><tspan textLength="4.9" lengthAdjust="spacingAndGlyphs">-</tspan>11.2</text>
<text class="c" transform="translate(177.1,269.8) scale(1.22,1)" text-anchor="middle"><tspan textLength="4.9" lengthAdjust="spacingAndGlyphs">-</tspan>8.4</text>
<text class="c" transform="translate(209.8,269.8) scale(1.22,1)" text-anchor="middle"><tspan textLength="4.9" lengthAdjust="spacingAndGlyphs">-</tspan>5.6</text>
<text class="c" transform="translate(242.5,269.8) scale(1.22,1)" text-anchor="middle"><tspan textLength="4.9" lengthAdjust="spacingAndGlyphs">-</tspan>2.8</text>
<text class="c" transform="translate(275.2,269.8) scale(1.22,1)" text-anchor="middle">0</text>
<text class="c" transform="translate(307.9,269.8) scale(1.22,1)" text-anchor="middle">2.8</text>
<text class="c" transform="translate(340.6,269.8) scale(1.22,1)" text-anchor="middle">5.6</text>
<text class="c" transform="translate(373.4,269.8) scale(1.22,1)" text-anchor="middle">8.4</text>
<text class="c" transform="translate(406.0,269.8) scale(1.22,1)" text-anchor="middle">11.2</text>
<text class="c" transform="translate(438.8,269.8) scale(1.22,1)" text-anchor="middle">14</text>
</svg></body></html>
